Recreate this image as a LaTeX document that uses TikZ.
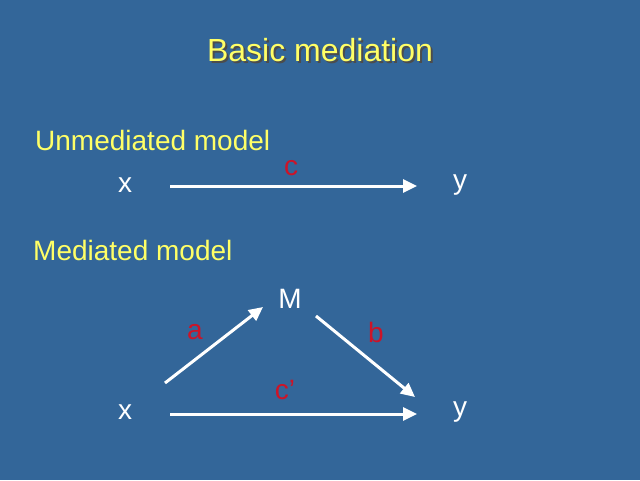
\documentclass[tikz,border=0pt]{standalone}
\usepackage{fontspec}
\setmainfont{Liberation Sans}
\usetikzlibrary{arrows.meta}
\definecolor{bg}{RGB}{51,102,153}
\definecolor{ttl}{RGB}{255,255,102}
\definecolor{lbl}{RGB}{204,20,40}
\begin{document}
\begin{tikzpicture}[x=1pt,y=-1pt,
  var/.style={text=white,font=\fontsize{28}{32}\selectfont,inner sep=0pt},
  head/.style={text=ttl,font=\fontsize{28}{32}\selectfont,inner sep=0pt,anchor=west},
  path lbl/.style={text=lbl,font=\fontsize{28}{32}\selectfont,inner sep=0pt},
  arr/.style={draw=white,line width=3pt,-{Triangle[length=14pt,width=13pt]}}]
\fill[bg] (0,0) rectangle (640,480);
\useasboundingbox (0,0) rectangle (640,480);
\node[text=black!70,font=\fontsize{32}{36}\selectfont,inner sep=0pt] at (322,52) {Basic mediation};
\node (title) [text=ttl,font=\fontsize{32}{36}\selectfont,inner sep=0pt] at (320,50) {Basic mediation};
\node (h1) [head] at (35,140) {Unmediated model};
\node (x1) [var] at (125,185) {x};
\node (y1) [var] at (460,185) {y};
\coordinate (x1e) at (170,186);
\coordinate (y1e) at (417,186);
\draw[arr] (x1e) -- (y1e);
\node (c) [path lbl] at (291,168) {c};
\node (h2) [head] at (33,250) {Mediated model};
\node (M) [var] at (290,299) {M};
\node (x2) [var] at (125,412) {x};
\node (y2) [var] at (460,412) {y};
\coordinate (x2e) at (170,414);
\coordinate (y2e) at (417,414);
\coordinate (as) at (165,383);
\coordinate (ae) at (263,307);
\coordinate (bs) at (316,316);
\coordinate (be) at (415,397);
\draw[arr] (x2e) -- (y2e);
\draw[arr] (as) -- (ae);
\draw[arr] (bs) -- (be);
\node (a) [path lbl] at (195,332) {a};
\node (b) [path lbl] at (376,332) {b};
\node (cp) [path lbl] at (285,390) {c'};
\end{tikzpicture}
\end{document}
